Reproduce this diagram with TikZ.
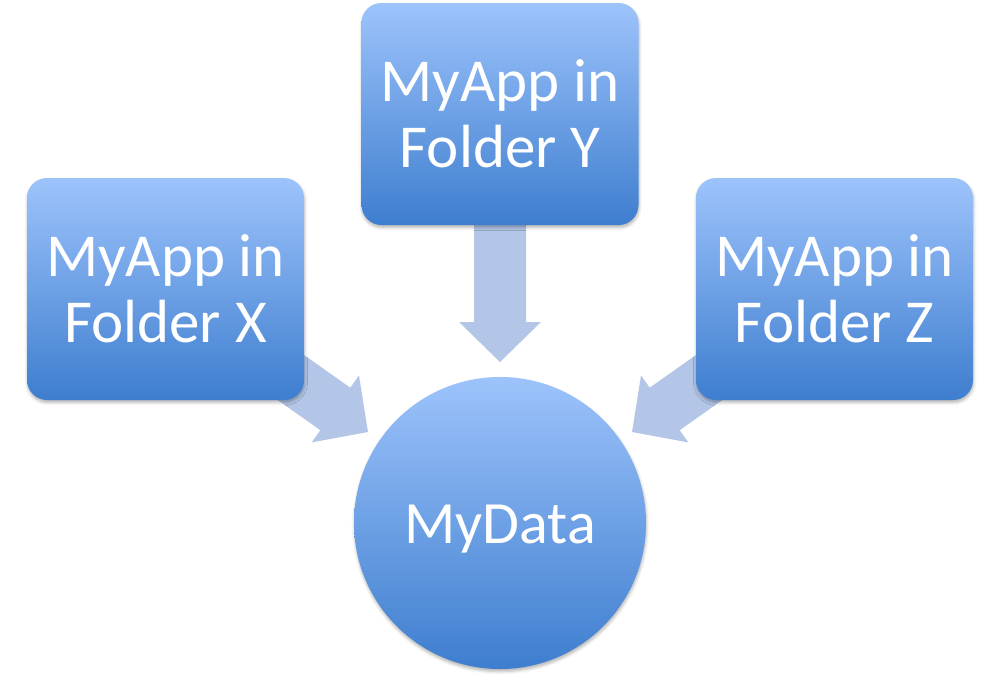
\documentclass[tikz,border=0pt]{standalone}
\usepackage{fontspec}
\setmainfont{Carlito}
\usetikzlibrary{calc,shadows.blur}
\definecolor{topc}{HTML}{9DC3FB}
\definecolor{botc}{HTML}{3E7ECF}
\definecolor{arrc}{HTML}{B3C6E7}
\pgfdeclarelayer{bg}
\pgfsetlayers{bg,main}
\newcommand\myblockarrow[2]{%
  \fill[arrc] let \p1=($(#2)-(#1)$), \n1={atan2(\y1,\x1)}, \n2={veclen(\x1,\y1)} in
    [shift={(#2)}, rotate=\n1]
    (0,0) -- (-40,41) -- (-40,26) -- (-\n2,26) -- (-\n2,-26) -- (-40,-26) -- (-40,-41) -- cycle;}
\begin{document}
\begin{tikzpicture}[x=1pt,y=-1pt,
  shade/.style={top color=topc, bottom color=botc, draw=none, text=white,
    blur shadow={shadow xshift=0.5pt, shadow yshift=-2.5pt, shadow blur radius=3pt, shadow opacity=30}},
  appbox/.style={shade, rounded corners=20pt, minimum width=277pt, minimum height=222pt,
    align=center, inner sep=0pt, font=\fontsize{61}{66}\selectfont},
  datacirc/.style={shade, circle, minimum size=292pt, inner sep=0pt, font=\fontsize{60}{66}\selectfont}]
\useasboundingbox (0,0) rectangle (1000,680);
\node[appbox] (X) at (165.5,289) {MyApp in\\Folder X};
\node[appbox] (Y) at (500,114) {MyApp in\\Folder Y};
\node[appbox] (Z) at (834.5,289) {MyApp in\\Folder Z};
\node[datacirc] (D) at (500,523) {\raisebox{-6pt}[\height][\depth]{MyData}};
\coordinate (tx) at (368,432);
\coordinate (ty) at (500,362);
\coordinate (tz) at (632,432);
\begin{pgfonlayer}{bg}
\myblockarrow{X.center}{tx}
\myblockarrow{Y.center}{ty}
\myblockarrow{Z.center}{tz}
\end{pgfonlayer}
\end{tikzpicture}
\end{document}
